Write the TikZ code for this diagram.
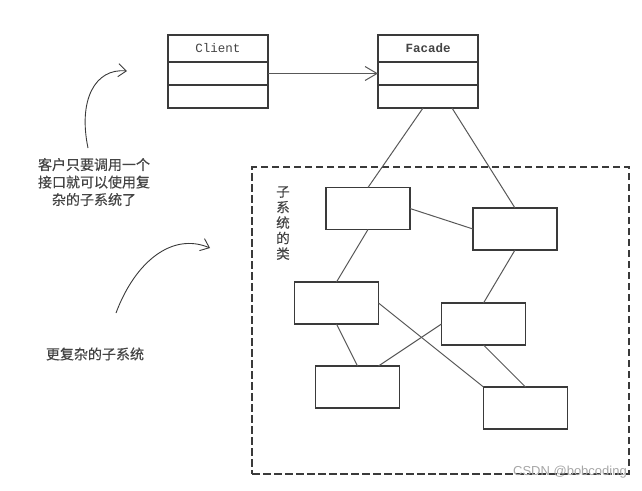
\documentclass[tikz,border=0pt]{standalone}
\usepackage{fontspec}
\setmonofont{Liberation Mono}
\newfontfamily\cjk[FakeBold=0.4]{Noto Sans CJK SC}
\newfontfamily\wmfont{Liberation Sans}
\usetikzlibrary{arrows.meta}
\definecolor{ln}{HTML}{3a3a3a}
\definecolor{tx}{HTML}{444444}
\begin{document}
\begin{tikzpicture}[x=1pt,y=-1pt,
  cls/.style={draw=ln,line width=1.1pt,rectangle,minimum width=100pt,inner sep=0pt,outer sep=0pt},
  sub/.style={draw=ln,line width=1.1pt,rectangle,minimum width=84pt,minimum height=42pt,inner sep=0pt,outer sep=0pt},
  conn/.style={draw=ln!85,line width=1pt},
  note/.style={text=tx,align=center,font=\cjk\fontsize{14}{17.5}\selectfont},
  curvearrow/.style={draw=ln,line width=0.9pt,-{Straight Barb[length=8pt,width=13pt]}}
]
\useasboundingbox (0,0) rectangle (642,490);
% Client
\node[cls,minimum height=27pt,text=tx,font=\ttfamily\fontsize{12.5}{14}\selectfont] (clientTop) at (218,48.5) {Client};
\node[cls,minimum height=23pt] (clientMid) at (218,73.5) {};
\node[cls,minimum height=23pt] (clientBot) at (218,96.5) {};
% Facade
\node[cls,minimum height=27pt,text=tx,font=\ttfamily\bfseries\fontsize{12.5}{14}\selectfont] (facadeTop) at (428,48.5) {Facade};
\node[cls,minimum height=23pt] (facadeMid) at (428,73.5) {};
\node[cls,minimum height=23pt] (facadeBot) at (428,96.5) {};
\draw[conn,-{Straight Barb[length=12pt,width=14pt]}] (clientMid.east) -- (facadeMid.west);
% dashed subsystem frame
\node[draw=ln,line width=1.2pt,dash pattern=on 7.5pt off 3.5pt,rectangle,minimum width=377pt,minimum height=307pt,inner sep=0pt] (frame) at (440.5,320.5) {};
\node[text=tx,align=center,font=\cjk\fontsize{13.5}{15.5}\selectfont] (sublabel) at (283,223) {子\\系\\统\\的\\类};
% subsystem classes
\node[sub] (b1) at (368,208.5) {};
\node[sub] (b2) at (515,229) {};
\node[sub] (b3) at (336.5,303) {};
\node[sub] (b4) at (483.5,324) {};
\node[sub] (b5) at (357.5,387) {};
\node[sub] (b6) at (525.5,408) {};
\draw[conn] ([xshift=-5pt]facadeBot.south) -- (b1.north);
\draw[conn] ([xshift=24pt]facadeBot.south) -- (b2.north);
\draw[conn] (b1.east) -- (b2.west);
\draw[conn] (b1.south) -- (b3.north);
\draw[conn] (b2.south) -- (b4.north);
\draw[conn] (b3.east) -- (b6.north west);
\draw[conn] (b3.south) -- (b5.north);
\draw[conn] (b4.west) -- ([xshift=21pt]b5.north);
\draw[conn] (b4.south) -- (b6.north);
% notes
\node[note] (note1) at (94,182) {客户只要调用一个\\接口就可以使用复\\杂的子系统了};
\node[note] (note2) at (95,354) {更复杂的子系统};
\coordinate (c1s) at (88,148);
\coordinate (c1e) at (127,71);
\coordinate (c2s) at (116,313);
\coordinate (c2e) at (210,248);
\draw[curvearrow] (c1s) .. controls (78,100) and (95,68) .. (c1e);
\draw[curvearrow] (c2s) .. controls (135,262) and (172,232) .. (c2e);
% watermark
\node[text=gray!70,font=\wmfont\fontsize{13}{15}\selectfont,anchor=east,inner sep=0pt] (wm) at (627,472) {CSDN @bobcoding};
\end{tikzpicture}
\end{document}
